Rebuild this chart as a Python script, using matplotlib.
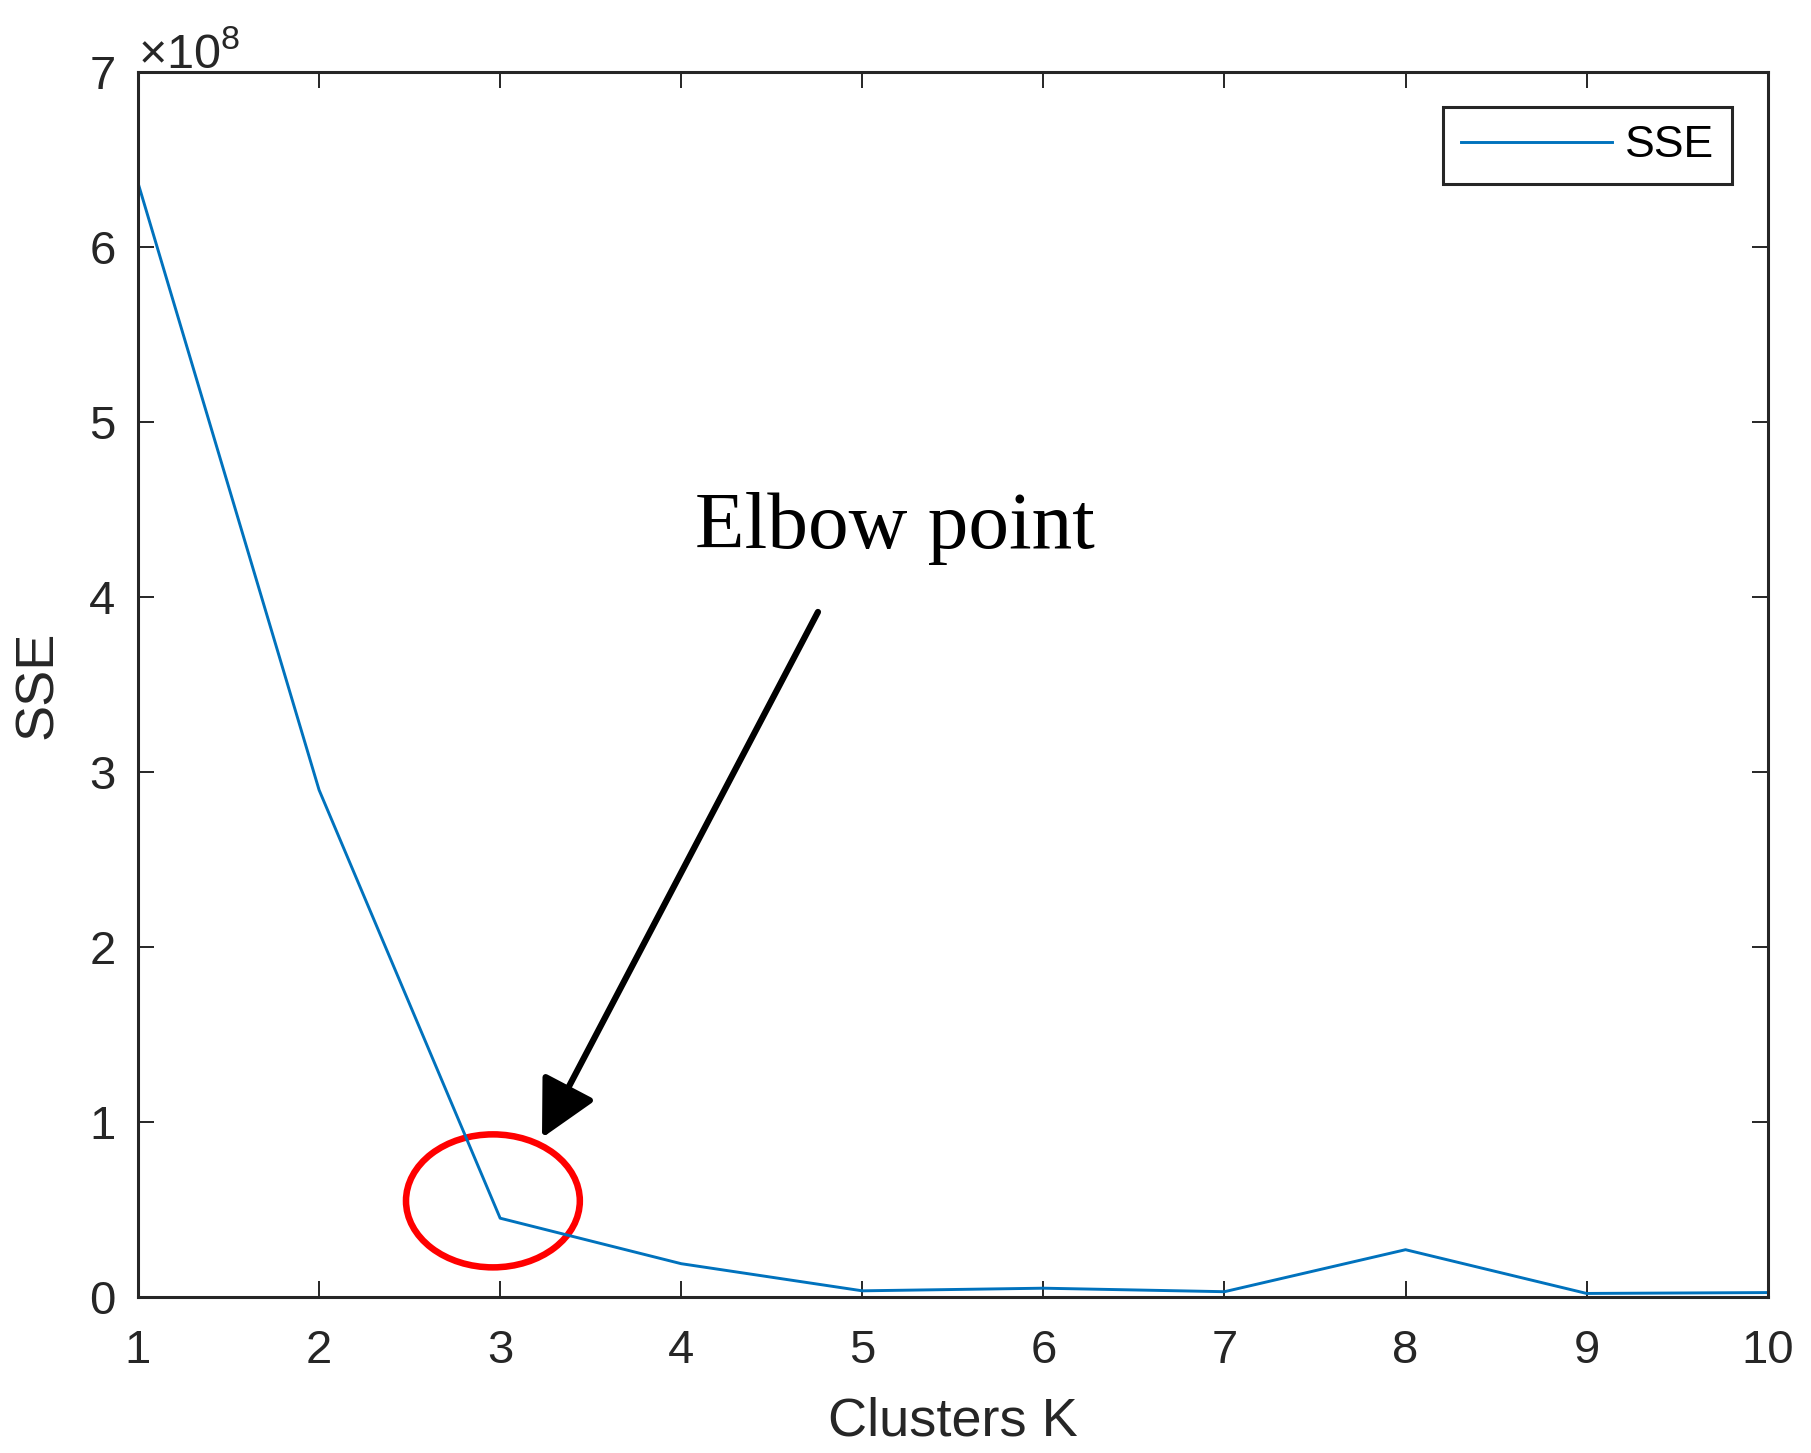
import numpy as np
import matplotlib
matplotlib.use('Agg')
import matplotlib.pyplot as plt
from matplotlib.patches import Ellipse
from matplotlib.ticker import ScalarFormatter

plt.rcParams['font.family'] = ['Liberation Sans', 'DejaVu Sans']
plt.rcParams['mathtext.fontset'] = 'custom'
plt.rcParams['mathtext.rm'] = 'Liberation Sans'
plt.rcParams['mathtext.it'] = 'Liberation Sans'

# Data
clusters = [1, 2, 3, 4, 5, 6, 7, 8, 9, 10]
sse = [6.366e8, 2.897e8, 0.45e8, 0.19e8, 0.035e8, 0.05e8, 0.03e8, 0.27e8, 0.02e8, 0.025e8]

# annotation positions (data coordinates)
elbow_center = (2.96, 0.549e8)
elbow_size = (0.96, 0.76e8)
arrow_tail = (4.755, 3.914e8)
arrow_tip = (3.231, 0.909e8)
label_pos = (4.076, 4.28e8)

axis_color = '#262626'
line_color = '#0072BD'

fig = plt.figure(figsize=(18.11, 14.53), dpi=100)
ax = fig.add_axes([0.0762, 0.1074, 0.8999, 0.8431])

ax.plot(clusters, sse, color=line_color, lw=2.1, label='SSE')

ax.set_xlim(1, 10)
ax.set_ylim(0, 7e8)
ax.set_xticks(range(1, 11))
ax.set_yticks(np.arange(0, 8e8, 1e8))

fmt = ScalarFormatter(useMathText=True)
fmt.set_powerlimits((0, 0))
ax.yaxis.set_major_formatter(fmt)
ax.yaxis.get_offset_text().set_fontsize(35)
ax.yaxis.get_offset_text().set_color(axis_color)

for s in ax.spines.values():
    s.set_linewidth(2.2)
    s.set_color(axis_color)

ax.tick_params(direction='in', length=11.5, width=1.4, colors=axis_color,
               labelsize=34, top=True, right=True)
ax.tick_params(axis='x', pad=23)
ax.tick_params(axis='y', pad=16.5)

ax.set_xlabel('Clusters K', fontsize=39, color=axis_color)
ax.set_ylabel('SSE', fontsize=39, color=axis_color)
ax.xaxis.set_label_coords(0.5, -0.081)
ax.yaxis.set_label_coords(-0.046, 0.5)

leg = ax.legend(loc='upper right', fontsize=32, fancybox=False, framealpha=1,
                edgecolor=axis_color, handlelength=3.4, handletextpad=0.3,
                borderpad=0.4, borderaxespad=0.8)
leg.get_frame().set_linewidth(2.2)

# elbow annotation
ax.add_patch(Ellipse(elbow_center, elbow_size[0], elbow_size[1],
                     fill=False, edgecolor='red', lw=4.7))
ax.annotate('', xy=arrow_tip, xytext=arrow_tail,
            arrowprops=dict(arrowstyle='-|>,head_length=1.75,head_width=0.9',
                            mutation_scale=20, lw=4.5, color='black',
                            shrinkA=0, shrinkB=0))
ax.text(label_pos[0], label_pos[1], 'Elbow point', fontsize=58.5,
        family='Liberation Serif', ha='left', va='baseline', color='black')

fig.savefig('out.png', dpi=100)
